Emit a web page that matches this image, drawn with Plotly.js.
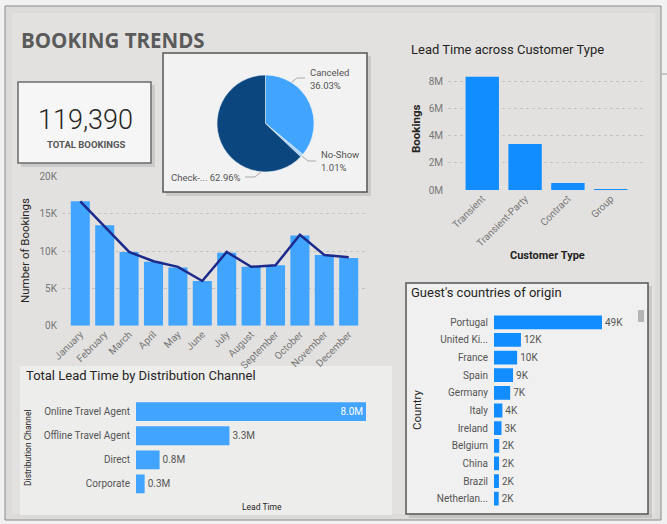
<!DOCTYPE html>
<html><head><meta charset="utf-8">
<script src="https://cdn.plot.ly/plotly-3.0.1.min.js"></script>
<style>html,body{margin:0;padding:0;background:#eeeeee;}#chart{width:667px;height:524px;}</style>
</head><body><div id="chart"></div>
<script>
// ---------- DATA ----------
const months = ['January','February','March','April','May','June','July','August','September','October','November','December'];
const monthBookings = [16700,13500,9900,8600,7800,6000,9800,7900,8100,12100,9500,9100];
const monthLine = [16700,13300,9900,8650,7900,6000,9900,7900,8100,12200,9500,9200];
const monthTickVals = [0,5000,10000,15000,20000];
const monthTickText = ['0K','5K','10K','15K','20K'];

const customerTypes = ['Transient','Transient-Party','Contract','Group'];
const customerLeadTime = [8350000,3390000,520000,70000];
const customerTickVals = [0,2000000,4000000,6000000,8000000];
const customerTickText = ['0M','2M','4M','6M','8M'];

const channels = ['Online Travel Agent','Offline Travel Agent','Direct','Corporate'];
const channelLeadTime = [8000000,3250000,820000,300000];

const countries = ['Portugal','United Kingdom','France','Spain','Germany','Italy','Ireland','Belgium','China','Brazil','Netherlands'];
const countryLabels = ['Portugal','United Ki...','France','Spain','Germany','Italy','Ireland','Belgium','China','Brazil','Netherlan...'];
const countryBookings = [48590,12129,10415,8568,7287,3766,3375,2342,2278,2224,2104];

const statusLabels = ['Canceled','No-Show','Check-Out'];
const statusShort = ['Canceled','No-Show','Check-...'];
const statusCounts = [43017,1207,75166];
const totalBookings = 119390;

// ---------- HELPERS ----------
const W = 667, H = 524;
const X = p => p / W;
const Y = p => 1 - p / H;
const F = 'Roboto, "Noto Sans", sans-serif';
const rect = (x0,y0,x1,y1,fill,line,lw) => ({type:'rect',xref:'paper',yref:'paper',layer:'below',
  x0:X(x0),x1:X(x1),y0:Y(y1),y1:Y(y0),fillcolor:fill,line:{color:line||'rgba(0,0,0,0)',width:lw||0}});
const seg = (x0,y0,x1,y1,c,w,layer) => ({type:'line',xref:'paper',yref:'paper',layer:layer||'above',
  x0:X(x0),x1:X(x1),y0:Y(y0),y1:Y(y1),line:{color:c,width:w||1}});
const ann = (text,x,y,o) => Object.assign({text:text,x:X(x),y:Y(y),xref:'paper',yref:'paper',showarrow:false,
  xanchor:'left',yanchor:'middle',font:{family:F,size:10,color:'#555'}}, o||{});

const fmtM = v => (v/1e6).toFixed(1)+'M';
const fmtK = v => Math.round(v/1000)+'K';
const pct = v => (v/statusCounts.reduce((a,b)=>a+b,0)*100).toFixed(2)+'%';

// ---------- TRACES ----------
const traces = [
  {type:'bar', x:months, y:monthBookings, xaxis:'x', yaxis:'y', marker:{color:'#41a4ff'}, hoverinfo:'none'},
  {type:'scatter', mode:'lines', x:months, y:monthLine, xaxis:'x', yaxis:'y', line:{color:'#1c2a8c', width:2.5}, hoverinfo:'none'},
  {type:'bar', x:customerTypes, y:customerLeadTime, xaxis:'x2', yaxis:'y2', marker:{color:'#118dff'}, hoverinfo:'none'},
  {type:'bar', orientation:'h', y:channels, x:channelLeadTime, xaxis:'x3', yaxis:'y3', marker:{color:'#41a4ff'},
    text:channelLeadTime.map(fmtM), textposition:['inside','outside','outside','outside'], insidetextanchor:'end',
    textfont:{family:F,size:10,color:['#ffffff','#555','#555','#555']}, cliponaxis:false, hoverinfo:'none'},
  {type:'bar', orientation:'h', y:countries, x:countryBookings, xaxis:'x4', yaxis:'y4', marker:{color:'#118dff'},
    text:countryBookings.map(fmtK), textposition:'outside',
    textfont:{family:F,size:10,color:'#555'}, cliponaxis:false, hoverinfo:'none'},
  {type:'pie', labels:statusLabels, values:statusCounts, sort:false, direction:'clockwise', rotation:0,
    marker:{colors:['#41a4ff','#a8d3fa','#0b467f'], line:{color:'#e8f2fc', width:0.6}},
    textinfo:'none', hoverinfo:'none', domain:{x:[X(217),X(314)], y:[Y(172),Y(75)]}}
];

const tickF = {family:F, size:10, color:'#777'};
const layout = {
  width:W, height:H, margin:{l:0,r:0,t:0,b:0}, autosize:false, showlegend:false,
  paper_bgcolor:'#f1f1f1', plot_bgcolor:'rgba(0,0,0,0)', bargap:0.22,
  xaxis:{anchor:'y', domain:[X(62),X(367)], range:[-0.75,11.75], tickangle:-45, tickfont:tickF, showgrid:false, zeroline:false, ticks:''},
  yaxis:{anchor:'x', domain:[Y(325.7),Y(176.7)], range:[0,20000], tickvals:monthTickVals, ticktext:monthTickText, tickfont:tickF,
    showgrid:true, gridcolor:'#c4c4c4', griddash:'dot', zeroline:false, ticklabelstandoff:4},
  xaxis2:{anchor:'y2', domain:[X(448),X(645)], range:[-0.8,3.8], tickangle:-45, tickfont:tickF, showgrid:false, zeroline:false, ticks:''},
  yaxis2:{anchor:'x2', domain:[Y(190),Y(73.4)], range:[0,8600000], tickvals:customerTickVals, ticktext:customerTickText, tickfont:tickF,
    showgrid:true, gridcolor:'#c4c4c4', griddash:'dot', zeroline:false, ticklabelstandoff:4},
  xaxis3:{anchor:'y3', domain:[X(136),X(366)], range:[0,8000000], visible:false},
  yaxis3:{anchor:'x3', domain:[Y(496),Y(399.6)], range:[3.5,-0.5], tickfont:{family:F,size:10,color:'#555'}, showgrid:false, zeroline:false, ticks:'', ticklabelstandoff:5},
  xaxis4:{anchor:'y4', domain:[X(494),X(624)], range:[0,58500], visible:false},
  yaxis4:{anchor:'x4', domain:[Y(507.5),Y(313.5)], range:[10.5,-0.5], tickvals:countries, ticktext:countryLabels, tickfont:{family:F,size:10,color:'#555'},
    showgrid:false, zeroline:false, ticks:'', ticklabelstandoff:5},
  shapes:[
    rect(5,6,661,520,'#dcdbd9','#8a8a8a',1),
    rect(12,13,655,514,'#e2e1df'),
    // KPI card
    rect(21,85,155,167,'rgba(0,0,0,0.10)'),
    rect(18,82,151,163,'#f6f6f6','#6b6b6b',1.5),
    // pie card
    rect(166,56,371,196,'rgba(0,0,0,0.10)'),
    rect(163,53,367,192,'#f2f2f2','#555555',1.5),
    // channel panel
    rect(20,366,392,515,'rgba(240,240,240,0.75)'),
    // countries panel
    rect(409,286,652,518,'rgba(0,0,0,0.10)'),
    rect(406,283,648,514,'#f0f0f0','#555555',1.5),
    {type:'rect',xref:'paper',yref:'paper',layer:'above',x0:X(638),x1:X(644),y0:Y(322),y1:Y(310),fillcolor:'#b5b5b5',line:{width:0}},
    seg(662,74,667,74,'#999',1),
    // pie leader lines
    seg(292,82,297,78,'#aaa',1), seg(297,78,305,78,'#aaa',1),
    seg(302,156,308,161,'#aaa',1), seg(308,161,316,161,'#aaa',1),
    seg(245,177,255,177,'#aaa',1), seg(255,177,262,171,'#aaa',1)
  ],
  annotations:[
    ann('BOOKING TRENDS',19,40,{font:{family:'"Open Sans", sans-serif',size:20.5,color:'#5a5a5a',weight:'bold'}}),
    ann(totalBookings.toLocaleString('en-US'),85,120,{xanchor:'center',font:{family:F,size:27,color:'#252423',weight:300}}),
    ann('TOTAL BOOKINGS',86,144,{xanchor:'center',font:{family:F,size:9.5,color:'#555',weight:'bold'}}),
    ann(statusShort[0],308,72,{font:{family:F,size:9.5,color:'#555'}}),
    ann(pct(statusCounts[0]),308,85,{font:{family:F,size:9.5,color:'#555'}}),
    ann(statusShort[1],319,154,{font:{family:F,size:9.5,color:'#555'}}),
    ann(pct(statusCounts[1]),319,167,{font:{family:F,size:9.5,color:'#555'}}),
    ann(statusShort[2]+' '+pct(statusCounts[2]),243,177,{xanchor:'right',font:{family:F,size:9.5,color:'#555'}}),
    ann('Lead Time across Customer Type',409,49,{font:{family:F,size:13,color:'#252423'}}),
    ann('Bookings',416,129,{xanchor:'center',textangle:-90,font:{family:F,size:11.5,color:'#252423',weight:'bold'}}),
    ann('Customer Type',547,256,{xanchor:'center',font:{family:F,size:11,color:'#252423',weight:'bold'}}),
    ann('Number of Bookings',25,251,{xanchor:'center',textangle:-90,font:{family:F,size:11.5,color:'#252423'}}),
    ann('Total Lead Time by Distribution Channel',24,375,{font:{family:F,size:13,color:'#252423'}}),
    ann('Distribution Channel',28,448,{xanchor:'center',textangle:-90,font:{family:F,size:8.5,color:'#252423'}}),
    ann('Lead Time',262,507,{xanchor:'center',font:{family:F,size:8.5,color:'#252423'}}),
    ann("Guest's countries of origin",409,292,{font:{family:F,size:13,color:'#252423'}}),
    ann('Country',417,410,{xanchor:'center',textangle:-90,font:{family:F,size:11.5,color:'#252423'}})
  ]
};
Plotly.newPlot('chart', traces, layout, {displayModeBar:false, staticPlot:true});
</script></body></html>
